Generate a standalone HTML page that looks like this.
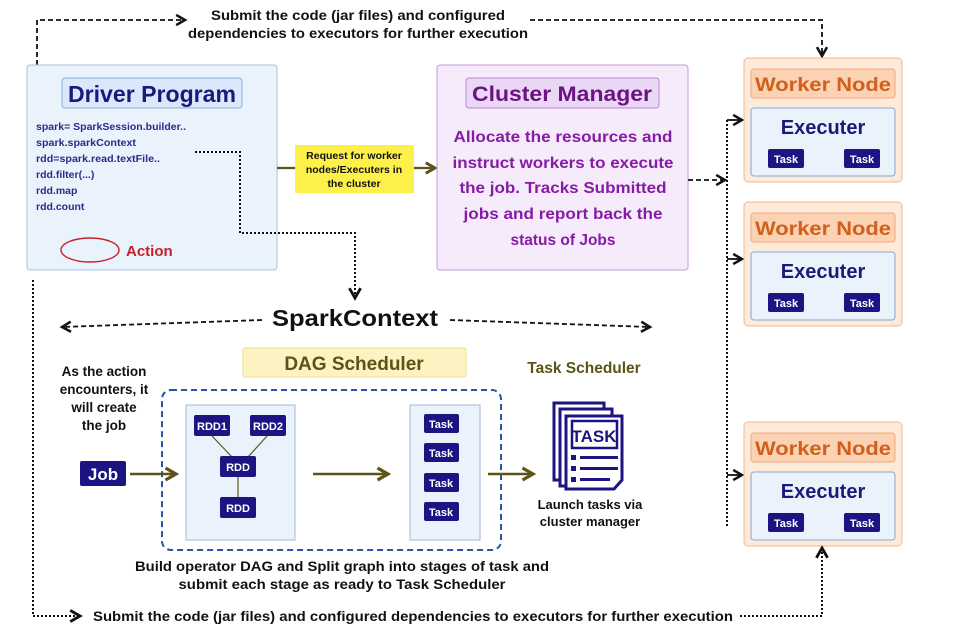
<!DOCTYPE html>
<html><head><meta charset="utf-8"><style>
html,body{margin:0;padding:0;background:#fff;width:955px;height:628px;overflow:hidden}
svg{display:block}
text{font-family:"Liberation Sans",sans-serif;font-weight:bold}
</style></head><body>
<svg width="955" height="628" viewBox="0 0 955 628" xmlns="http://www.w3.org/2000/svg">
<defs>
<marker id="ak" viewBox="0 0 10 10" refX="8" refY="5" markerWidth="7" markerHeight="7" orient="auto"><path d="M1,1 L8,5 L1,9" fill="none" stroke="#111" stroke-width="2"/></marker>
<marker id="ao" viewBox="0 0 10 10" refX="8" refY="5" markerWidth="6" markerHeight="6" orient="auto"><path d="M1,1 L8,5 L1,9" fill="none" stroke="#5e5418" stroke-width="2.2"/></marker>
</defs>

<!-- top dashed connector -->
<path d="M37,65 V20 H185" fill="none" stroke="#111" stroke-width="1.8" stroke-dasharray="5,3" marker-end="url(#ak)"/>
<path d="M530,20 H822 V56" fill="none" stroke="#111" stroke-width="1.8" stroke-dasharray="5,3" marker-end="url(#ak)"/>
<text x="358" y="20" font-size="14" fill="#111" text-anchor="middle" textLength="294" lengthAdjust="spacingAndGlyphs">Submit the code (jar files) and configured</text>
<text x="358" y="38" font-size="14" fill="#111" text-anchor="middle" textLength="340" lengthAdjust="spacingAndGlyphs">dependencies to executors for further execution</text>

<!-- Driver Program -->
<rect x="27" y="65" width="250" height="205" rx="3" fill="#eaf3fc" stroke="#a9c3e3" stroke-width="1"/>
<rect x="62" y="78" width="180" height="30" rx="3" fill="#d9e8fa" stroke="#8eb0dc"/>
<text x="152" y="102" font-size="23" fill="#1a1a7a" text-anchor="middle" textLength="168" lengthAdjust="spacingAndGlyphs">Driver Program</text>
<g font-size="10.5" fill="#2a2a8c">
<text x="36" y="130" textLength="150" lengthAdjust="spacingAndGlyphs">spark= SparkSession.builder..</text>
<text x="36" y="146" textLength="100" lengthAdjust="spacingAndGlyphs">spark.sparkContext</text>
<text x="36" y="162" textLength="124" lengthAdjust="spacingAndGlyphs">rdd=spark.read.textFile..</text>
<text x="36" y="178">rdd.filter(...)</text>
<text x="36" y="194">rdd.map</text>
<text x="36" y="210">rdd.count</text>
</g>
<ellipse cx="90" cy="250" rx="29" ry="12" fill="none" stroke="#c8202a" stroke-width="1.4"/>
<text x="126" y="256" font-size="15" fill="#c8202a">Action</text>

<!-- request arrow -->
<line x1="277" y1="168" x2="435" y2="168" stroke="#5e5418" stroke-width="2.2" marker-end="url(#ao)"/>
<rect x="295" y="145" width="119" height="48" fill="#fdf04a"/>
<g font-size="10.5" fill="#111" text-anchor="middle">
<text x="354" y="159">Request for worker</text>
<text x="354" y="173">nodes/Executers in</text>
<text x="354" y="187">the cluster</text>
</g>

<!-- Cluster Manager -->
<rect x="437" y="65" width="251" height="205" rx="3" fill="#f6ebfb" stroke="#c99ade" stroke-width="1"/>
<rect x="466" y="78" width="193" height="30" rx="3" fill="#ead7f6" stroke="#b98ad2"/>
<text x="562" y="101" font-size="21" fill="#6b1380" text-anchor="middle" textLength="180" lengthAdjust="spacingAndGlyphs">Cluster Manager</text>
<g font-size="15.5" fill="#861ba6" text-anchor="middle">
<text x="563" y="142" textLength="219" lengthAdjust="spacingAndGlyphs">Allocate the resources and</text>
<text x="563" y="168" textLength="221" lengthAdjust="spacingAndGlyphs">instruct workers to execute</text>
<text x="563" y="193" textLength="207" lengthAdjust="spacingAndGlyphs">the job. Tracks Submitted</text>
<text x="563" y="219" textLength="199" lengthAdjust="spacingAndGlyphs">jobs and report back the</text>
<text x="563" y="245">status of Jobs</text>
</g>

<!-- to workers -->
<line x1="688" y1="180" x2="725" y2="180" stroke="#111" stroke-width="1.8" stroke-dasharray="5,3" marker-end="url(#ak)"/>
<line x1="727" y1="120" x2="727" y2="528" stroke="#111" stroke-width="2" stroke-dasharray="2,2"/>
<line x1="727" y1="120" x2="742" y2="120" stroke="#111" stroke-width="1.8" marker-end="url(#ak)"/>
<line x1="727" y1="259" x2="742" y2="259" stroke="#111" stroke-width="1.8" marker-end="url(#ak)"/>
<line x1="727" y1="475" x2="742" y2="475" stroke="#111" stroke-width="1.8" marker-end="url(#ak)"/>

<!-- Workers -->
<g id="w1">
<rect x="744" y="58" width="158" height="124" rx="4" fill="#fdeadb" stroke="#f5b78a"/>
<rect x="751" y="69" width="144" height="29" rx="3" fill="#fbd2b3" stroke="#f3a874"/>
<text x="823" y="91" font-size="19" fill="#d0601b" text-anchor="middle" textLength="136" lengthAdjust="spacingAndGlyphs">Worker Node</text>
<rect x="751" y="108" width="144" height="68" rx="3" fill="#eaf3fc" stroke="#88a6cc"/>
<text x="823" y="134" font-size="20" fill="#1a1a7a" text-anchor="middle">Executer</text>
<rect x="768" y="149" width="36" height="19" rx="2" fill="#1c1482"/>
<text x="786" y="163" font-size="11" fill="#fff" text-anchor="middle">Task</text>
<rect x="844" y="149" width="36" height="19" rx="2" fill="#1c1482"/>
<text x="862" y="163" font-size="11" fill="#fff" text-anchor="middle">Task</text>
</g>
<use href="#w1" y="144"/>
<use href="#w1" y="364"/>

<!-- driver to sparkcontext dotted -->
<path d="M195,152 H240 V233 H355 V298" fill="none" stroke="#111" stroke-width="2" stroke-dasharray="2,2" marker-end="url(#ak)"/>
<text x="355" y="326" font-size="23" fill="#111" text-anchor="middle" textLength="166" lengthAdjust="spacingAndGlyphs">SparkContext</text>
<line x1="262" y1="320" x2="62" y2="327" stroke="#111" stroke-width="1.8" stroke-dasharray="5,3" marker-end="url(#ak)"/>
<line x1="450" y1="320" x2="650" y2="327" stroke="#111" stroke-width="1.8" stroke-dasharray="5,3" marker-end="url(#ak)"/>

<!-- DAG -->
<rect x="243" y="348" width="223" height="29" rx="2" fill="#fdf3c2" stroke="#f0dd8a"/>
<text x="354" y="370" font-size="19" fill="#5a5417" text-anchor="middle">DAG Scheduler</text>
<text x="584" y="373" font-size="15.5" fill="#5a5417" text-anchor="middle">Task Scheduler</text>
<g font-size="13.5" fill="#111" text-anchor="middle">
<text x="104" y="376">As the action</text>
<text x="104" y="394">encounters, it</text>
<text x="104" y="412">will create</text>
<text x="104" y="430">the job</text>
</g>
<rect x="162" y="390" width="339" height="160" rx="9" fill="none" stroke="#2457a8" stroke-width="2" stroke-dasharray="6,4"/>
<rect x="186" y="405" width="109" height="135" fill="#eaf3fc" stroke="#9cb8dd"/>
<rect x="410" y="405" width="70" height="135" fill="#eaf3fc" stroke="#9cb8dd"/>
<g stroke="#5e5418" stroke-width="1.2">
<line x1="212" y1="436" x2="232" y2="457"/><line x1="267" y1="436" x2="248" y2="457"/><line x1="238" y1="477" x2="238" y2="498"/>
</g>
<g fill="#1c1482">
<rect x="194" y="415" width="36" height="21" rx="2"/><rect x="250" y="415" width="36" height="21" rx="2"/>
<rect x="220" y="456" width="36" height="21" rx="2"/><rect x="220" y="497" width="36" height="21" rx="2"/>
<rect x="424" y="414" width="35" height="19" rx="2"/><rect x="424" y="443" width="35" height="19" rx="2"/>
<rect x="424" y="473" width="35" height="19" rx="2"/><rect x="424" y="502" width="35" height="19" rx="2"/>
<rect x="80" y="461" width="46" height="25" rx="2"/>
</g>
<g font-size="11" fill="#fff" text-anchor="middle">
<text x="212" y="430">RDD1</text><text x="268" y="430">RDD2</text>
<text x="238" y="471">RDD</text><text x="238" y="512">RDD</text>
<text x="441" y="428">Task</text><text x="441" y="457">Task</text>
<text x="441" y="487">Task</text><text x="441" y="516">Task</text>
</g>
<text x="103" y="480" font-size="17" fill="#fff" text-anchor="middle">Job</text>
<line x1="130" y1="474" x2="176" y2="474" stroke="#5e5418" stroke-width="2.5" marker-end="url(#ao)"/>
<line x1="313" y1="474" x2="388" y2="474" stroke="#5e5418" stroke-width="2.5" marker-end="url(#ao)"/>
<line x1="488" y1="474" x2="533" y2="474" stroke="#5e5418" stroke-width="2.5" marker-end="url(#ao)"/>

<!-- TASK icon -->
<g fill="#fff" stroke="#1c1482" stroke-width="3">
<rect x="554" y="403" width="50" height="77"/>
<rect x="560" y="409" width="52" height="77"/>
<path d="M566,416 H622 V480 L614,489 H566 Z"/>
</g>
<rect x="572" y="421" width="45" height="27" fill="#fff" stroke="#1c1482" stroke-width="2.5"/>
<text x="594" y="442" font-size="17" fill="#1c1482" text-anchor="middle">TASK</text>
<g fill="#1c1482">
<rect x="571" y="455" width="5" height="5"/><rect x="580" y="456" width="38" height="3"/>
<rect x="571" y="466" width="5" height="5"/><rect x="580" y="467" width="38" height="3"/>
<rect x="571" y="477" width="5" height="5"/><rect x="580" y="478" width="30" height="3"/>
</g>
<g font-size="13" fill="#111" text-anchor="middle">
<text x="590" y="509">Launch tasks via</text>
<text x="590" y="526">cluster manager</text>
</g>
<g font-size="13.5" fill="#111" text-anchor="middle">
<text x="342" y="571" textLength="414" lengthAdjust="spacingAndGlyphs">Build operator  DAG and Split graph into stages of task and</text>
<text x="342" y="589" textLength="327" lengthAdjust="spacingAndGlyphs">submit each stage as ready to Task Scheduler</text>
</g>

<!-- bottom connector -->
<path d="M33,280 V616 H80" fill="none" stroke="#111" stroke-width="2" stroke-dasharray="2,2" marker-end="url(#ak)"/>
<text x="93" y="621" font-size="13.5" fill="#111" textLength="640" lengthAdjust="spacingAndGlyphs">Submit the code (jar files) and configured dependencies to executors for further execution</text>
<path d="M740,616 H822 V548" fill="none" stroke="#111" stroke-width="2" stroke-dasharray="2,2" marker-end="url(#ak)"/>
</svg>
</body></html>
